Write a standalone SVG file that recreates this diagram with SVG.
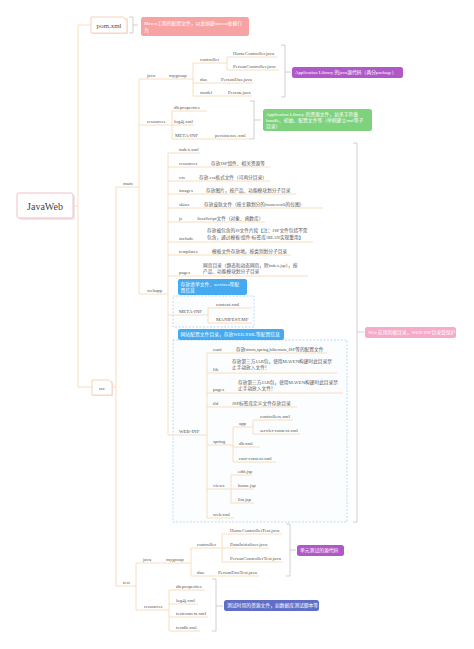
<svg xmlns="http://www.w3.org/2000/svg" width="474" height="649" viewBox="0 0 474 649">
<style>
.c{fill:none;stroke:#f7d6ad;stroke-width:0.8}
.b{fill:none;stroke:#c4c4c4;stroke-width:0.8}
.t{font-family:"Liberation Serif","Noto Sans CJK SC",serif;font-size:4.9px;fill:#555}
.d{font-family:"Liberation Serif","Noto Sans CJK SC",serif;font-size:4.7px;fill:#555}
.w{font-family:"Liberation Serif","Noto Sans CJK SC",serif;font-size:4.8px;fill:#fff}
.bd{fill:#fbfdff;stroke:#9fcdee;stroke-width:0.7;stroke-dasharray:2 1.5}
.box{fill:#fff;stroke:#f4c6ad;stroke-width:0.8}
</style>
<rect width="474" height="649" fill="#fff"/>
<g id="boundaries">
<rect class="bd" x="173" y="296" width="81" height="31"/>
<rect class="bd" x="173" y="340" width="174" height="182"/>
</g>
<g id="connectors">
<path class="c" d="M73,206H78M78,25V387M78,25H91M78,387H92"/>
<path class="c" d="M112,387H116M116,187V586M116,187H139M116,586H136"/>
<path class="c" d="M139,79V294M139,79H193M193,63V96M193,63H227M227,57V70M227,57H277M227,70H279M193,83H253M193,96H252"/>
<path class="c" d="M139,125H172M172,111V139M172,111H207M172,125H194M172,139H250M139,294H168"/>
<path class="c" d="M168,153V435M168,153H200M168,167H270M168,181H270M168,194H296M168,208H323M168,222H265M168,242H313M168,255H291M168,276H308"/>
<path class="c" d="M168,315H208M208,308V323M208,308H252M208,323H252M168,435H207"/>
<path class="c" d="M207,353V518M207,353H327M207,373H337M207,393H343M207,407H297M207,445H233M233,427V462M233,427H253M253,420V434M253,420H293M253,434H300M233,447H260M233,462H276M207,489H231M231,475V503M231,475H252M231,489H254M231,503H254M207,518H234"/>
<path class="c" d="M136,563V610M136,563H191M191,548V576M191,548H222M222,534V562M222,534H282M222,548H269M222,562H283M191,576H259"/>
<path class="c" d="M136,610H169M169,590V631M169,590H205M169,604H198M169,617H208M169,631H200"/>
<path class="b" d="M129,17H133V33H129M133,25H138"/>
<path class="b" d="M281,45H285V97H281M285,72H291"/>
<path class="b" d="M250,101H254V139H250M254,120H261"/>
<path class="b" d="M353,143H357V522H353M357,332H364"/>
<path class="b" d="M286,524H290V576H286M290,550H296"/>
<path class="b" d="M212,579H216V631H212M216,606H223"/>
</g>
<g id="root">
<rect x="19" y="195" width="56" height="25" rx="2" fill="#f1e6e8"/>
<rect x="17" y="193" width="56" height="25" rx="2" fill="#fff" stroke="#efb9c4" stroke-width="0.9"/>
<text x="45" y="209.5" text-anchor="middle" font-family="Liberation Serif,serif" font-size="10" fill="#444">JavaWeb</text>
</g>
<g id="pom">
<rect x="92" y="18" width="36" height="16" fill="#f3ebe6"/>
<path class="box" d="M91,17H123L127,21V33H91Z"/>
<text x="109" y="27.8" text-anchor="middle" font-family="Liberation Serif,serif" font-size="7" fill="#555">pom.xml</text>
</g>
<g id="pom-note">
<rect x="141" y="17" width="108" height="19" rx="2.5" fill="#f7a3a3"/>
<text class="w" x="144" y="24.5">Maven工程的配置文件，以此创建maven依赖行</text>
<text class="w" x="144" y="31.5">为</text>
</g>
<g id="src">
<rect x="93" y="381" width="20" height="15" fill="#f3ebe6"/>
<path class="box" d="M92,380H109L112,383V395H92Z"/>
<text x="102" y="389.5" text-anchor="middle" font-family="Liberation Serif,serif" font-size="5" fill="#555">src</text>
</g>
<g id="main"><text class="t" x="123" y="184.5">main</text></g>
<g id="main-java"><text class="t" x="147" y="76.5">java</text></g>
<g id="main-mygroup"><text class="t" x="169" y="76.5">mygroup</text></g>
<g id="main-controller"><text class="t" x="200" y="60.5">controller</text></g>
<g id="main-homecontroller"><text class="t" x="233" y="54.5">HomeController.java</text></g>
<g id="main-personcontroller"><text class="t" x="233" y="67.5">PersonController.java</text></g>
<g id="main-dao"><text class="t" x="200" y="80.5">dao</text></g>
<g id="main-persondao"><text class="t" x="221" y="80.5">PersonDao.java</text></g>
<g id="main-model"><text class="t" x="200" y="93.5">model</text></g>
<g id="main-person"><text class="t" x="228" y="93.5">Person.java</text></g>
<g id="java-note">
<rect x="292" y="67" width="111" height="11" rx="2.5" fill="#b058c8"/>
<text class="w" x="295" y="74.3" font-size="4.6">Application Library 的java源代码（两分package）</text>
</g>
<g id="main-resources"><text class="t" x="147" y="122.5">resources</text></g>
<g id="main-dbprops"><text class="t" x="174" y="108.5">db.properties</text></g>
<g id="main-log4j"><text class="t" x="174" y="122.5">log4j.xml</text></g>
<g id="main-metainf"><text class="t" x="175" y="136.5">META-INF</text></g>
<g id="main-persistence"><text class="t" x="215" y="136.5">persistence.xml</text></g>
<g id="resources-note">
<rect x="263" y="109" width="109" height="22" rx="2.5" fill="#7ed27e"/>
<text class="w" x="266" y="115.5">Application Library 的资源文件，如多字符集</text>
<text class="w" x="266" y="121.5">bundle、初始、配置文件等（举例建立xml等子</text>
<text class="w" x="266" y="127.5">目录）</text>
</g>
<g id="webapp"><text class="t" x="147" y="291.5">webapp</text></g>
<g id="w-index"><text class="t" x="179" y="150.5">index.xml</text></g>
<g id="w-resources"><text class="t" x="179" y="164.5">resources</text><text class="d" x="211" y="164.5">存放JSP组件、相关资源等</text></g>
<g id="w-css"><text class="t" x="179" y="178.5">css</text><text class="d" x="199" y="178.5">存放.css格式文件（可再分目录）</text></g>
<g id="w-images"><text class="t" x="179" y="191.5">images</text><text class="d" x="206" y="191.5">存放图片，按产品、功能模块划分子目录</text></g>
<g id="w-skins"><text class="t" x="179" y="205.5">skins</text><text class="d" x="204" y="205.5">存放皮肤文件（按主题划分的framework的位图）</text></g>
<g id="w-js"><text class="t" x="179" y="219.5">js</text><text class="d" x="197" y="219.5">JavaScript文件（对象、函数库）</text></g>
<g id="w-include"><text class="t" x="179" y="239.5">include</text><text class="d" x="207" y="231.5">存放被包含的JS文件片段【注：JSP文件包括不需</text><text class="d" x="207" y="238.5">包含，通过模板/组件/标签库/BEAN实现重用】</text></g>
<g id="w-templates"><text class="t" x="179" y="252.5">templates</text><text class="d" x="212" y="252.5">模板文件存放地，按类别划分子目录</text></g>
<g id="w-pages"><text class="t" x="179" y="273.5">pages</text><text class="d" x="203" y="266.5">网页目录（静态和动态网页，除index.jsp），按</text><text class="d" x="203" y="273">产品、功能模块划分子目录</text></g>
<g id="metainf-title">
<rect x="178" y="279" width="69" height="16" rx="2" fill="#45aaf0"/>
<text class="w" x="180.5" y="285.5">存放清单文件、services等配</text>
<text class="w" x="180.5" y="292">置信息</text>
</g>
<g id="w-metainf"><text class="t" x="179" y="312.5">META-INF</text></g>
<g id="w-content"><text class="t" x="216" y="305.5">content.xml</text></g>
<g id="w-manifest"><text class="t" x="216" y="320.5">MANIFEST.MF</text></g>
<g id="webinf-title">
<rect x="178" y="329" width="106" height="11" rx="2" fill="#45aaf0"/>
<text class="w" x="180.5" y="336.3">网站配置文件目录，存放WEB.XML等配置信息</text>
</g>
<g id="w-webinf"><text class="t" x="179" y="432.5">WEB-INF</text></g>
<g id="wi-conf"><text class="t" x="213" y="350.5">conf</text><text class="d" x="236" y="350.5">存放struts,spring,hibernate,JSF等的配置文件</text></g>
<g id="wi-lib"><text class="t" x="213" y="370.5">lib</text><text class="d" x="232" y="362.5">存放第三方JAR包，使用MAVEN构建时此目录禁</text><text class="d" x="232" y="369">止手动放入文件！</text></g>
<g id="wi-pages"><text class="t" x="213" y="390.5">pages</text><text class="d" x="238" y="383.5">存放第三方JAR包，使用MAVEN构建时此目录禁</text><text class="d" x="238" y="390">止手动放入文件！</text></g>
<g id="wi-tld"><text class="t" x="213" y="404.5">tld</text><text class="d" x="232" y="404.5">JSP标签库定义文件存放目录</text></g>
<g id="wi-spring"><text class="t" x="213" y="442.5">spring</text></g>
<g id="wi-app"><text class="t" x="239" y="424.5">app</text></g>
<g id="wi-controllers"><text class="t" x="260" y="417.5">controllers.xml</text></g>
<g id="wi-servlet"><text class="t" x="260" y="431.5">servlet-context.xml</text></g>
<g id="wi-db"><text class="t" x="239" y="444.5">db.xml</text></g>
<g id="wi-root"><text class="t" x="239" y="459.5">root-context.xml</text></g>
<g id="wi-views"><text class="t" x="213" y="486.5">views</text></g>
<g id="wi-edit"><text class="t" x="238" y="472.5">edit.jsp</text></g>
<g id="wi-home"><text class="t" x="238" y="486.5">home.jsp</text></g>
<g id="wi-list"><text class="t" x="238" y="500.5">list.jsp</text></g>
<g id="wi-web"><text class="t" x="213" y="515.5">web.xml</text></g>
<g id="webapp-note">
<rect x="365" y="327" width="91" height="11" rx="2.5" fill="#f7a9ca"/>
<text class="w" x="368" y="334.3" font-size="4.6">Web 应用的根目录，WEB-INF目录受保护</text>
</g>
<g id="test"><text class="t" x="123" y="583.5">test</text></g>
<g id="t-java"><text class="t" x="143" y="560.5">java</text></g>
<g id="t-mygroup"><text class="t" x="166" y="560.5">mygroup</text></g>
<g id="t-controller"><text class="t" x="197" y="545.5">controller</text></g>
<g id="t-hct"><text class="t" x="230" y="531.5">HomeControllerTest.java</text></g>
<g id="t-di"><text class="t" x="230" y="545.5">DataInitializer.java</text></g>
<g id="t-pct"><text class="t" x="230" y="559.5">PersonControllerTest.java</text></g>
<g id="t-dao"><text class="t" x="197" y="573.5">dao</text></g>
<g id="t-pdt"><text class="t" x="218" y="573.5">PersonDaoTest.java</text></g>
<g id="test-java-note">
<rect x="297" y="545" width="47" height="11" rx="2.5" fill="#b058c8"/>
<text class="w" x="300" y="552.3" font-size="5">单元测试的源代码</text>
</g>
<g id="t-resources"><text class="t" x="144" y="607.5">resources</text></g>
<g id="t-dbprops"><text class="t" x="176" y="587.5">db.properties</text></g>
<g id="t-log4j"><text class="t" x="176" y="601.5">log4j.xml</text></g>
<g id="t-testcontext"><text class="t" x="176" y="614.5">testcontext.xml</text></g>
<g id="t-testdb"><text class="t" x="176" y="628.5">testdb.xml</text></g>
<g id="test-res-note">
<rect x="224" y="600" width="95" height="11" rx="2.5" fill="#5f6fc8"/>
<text class="w" x="227" y="607.3">测试时用的资源文件，如数据库测试脚本等</text>
</g>
</svg>
